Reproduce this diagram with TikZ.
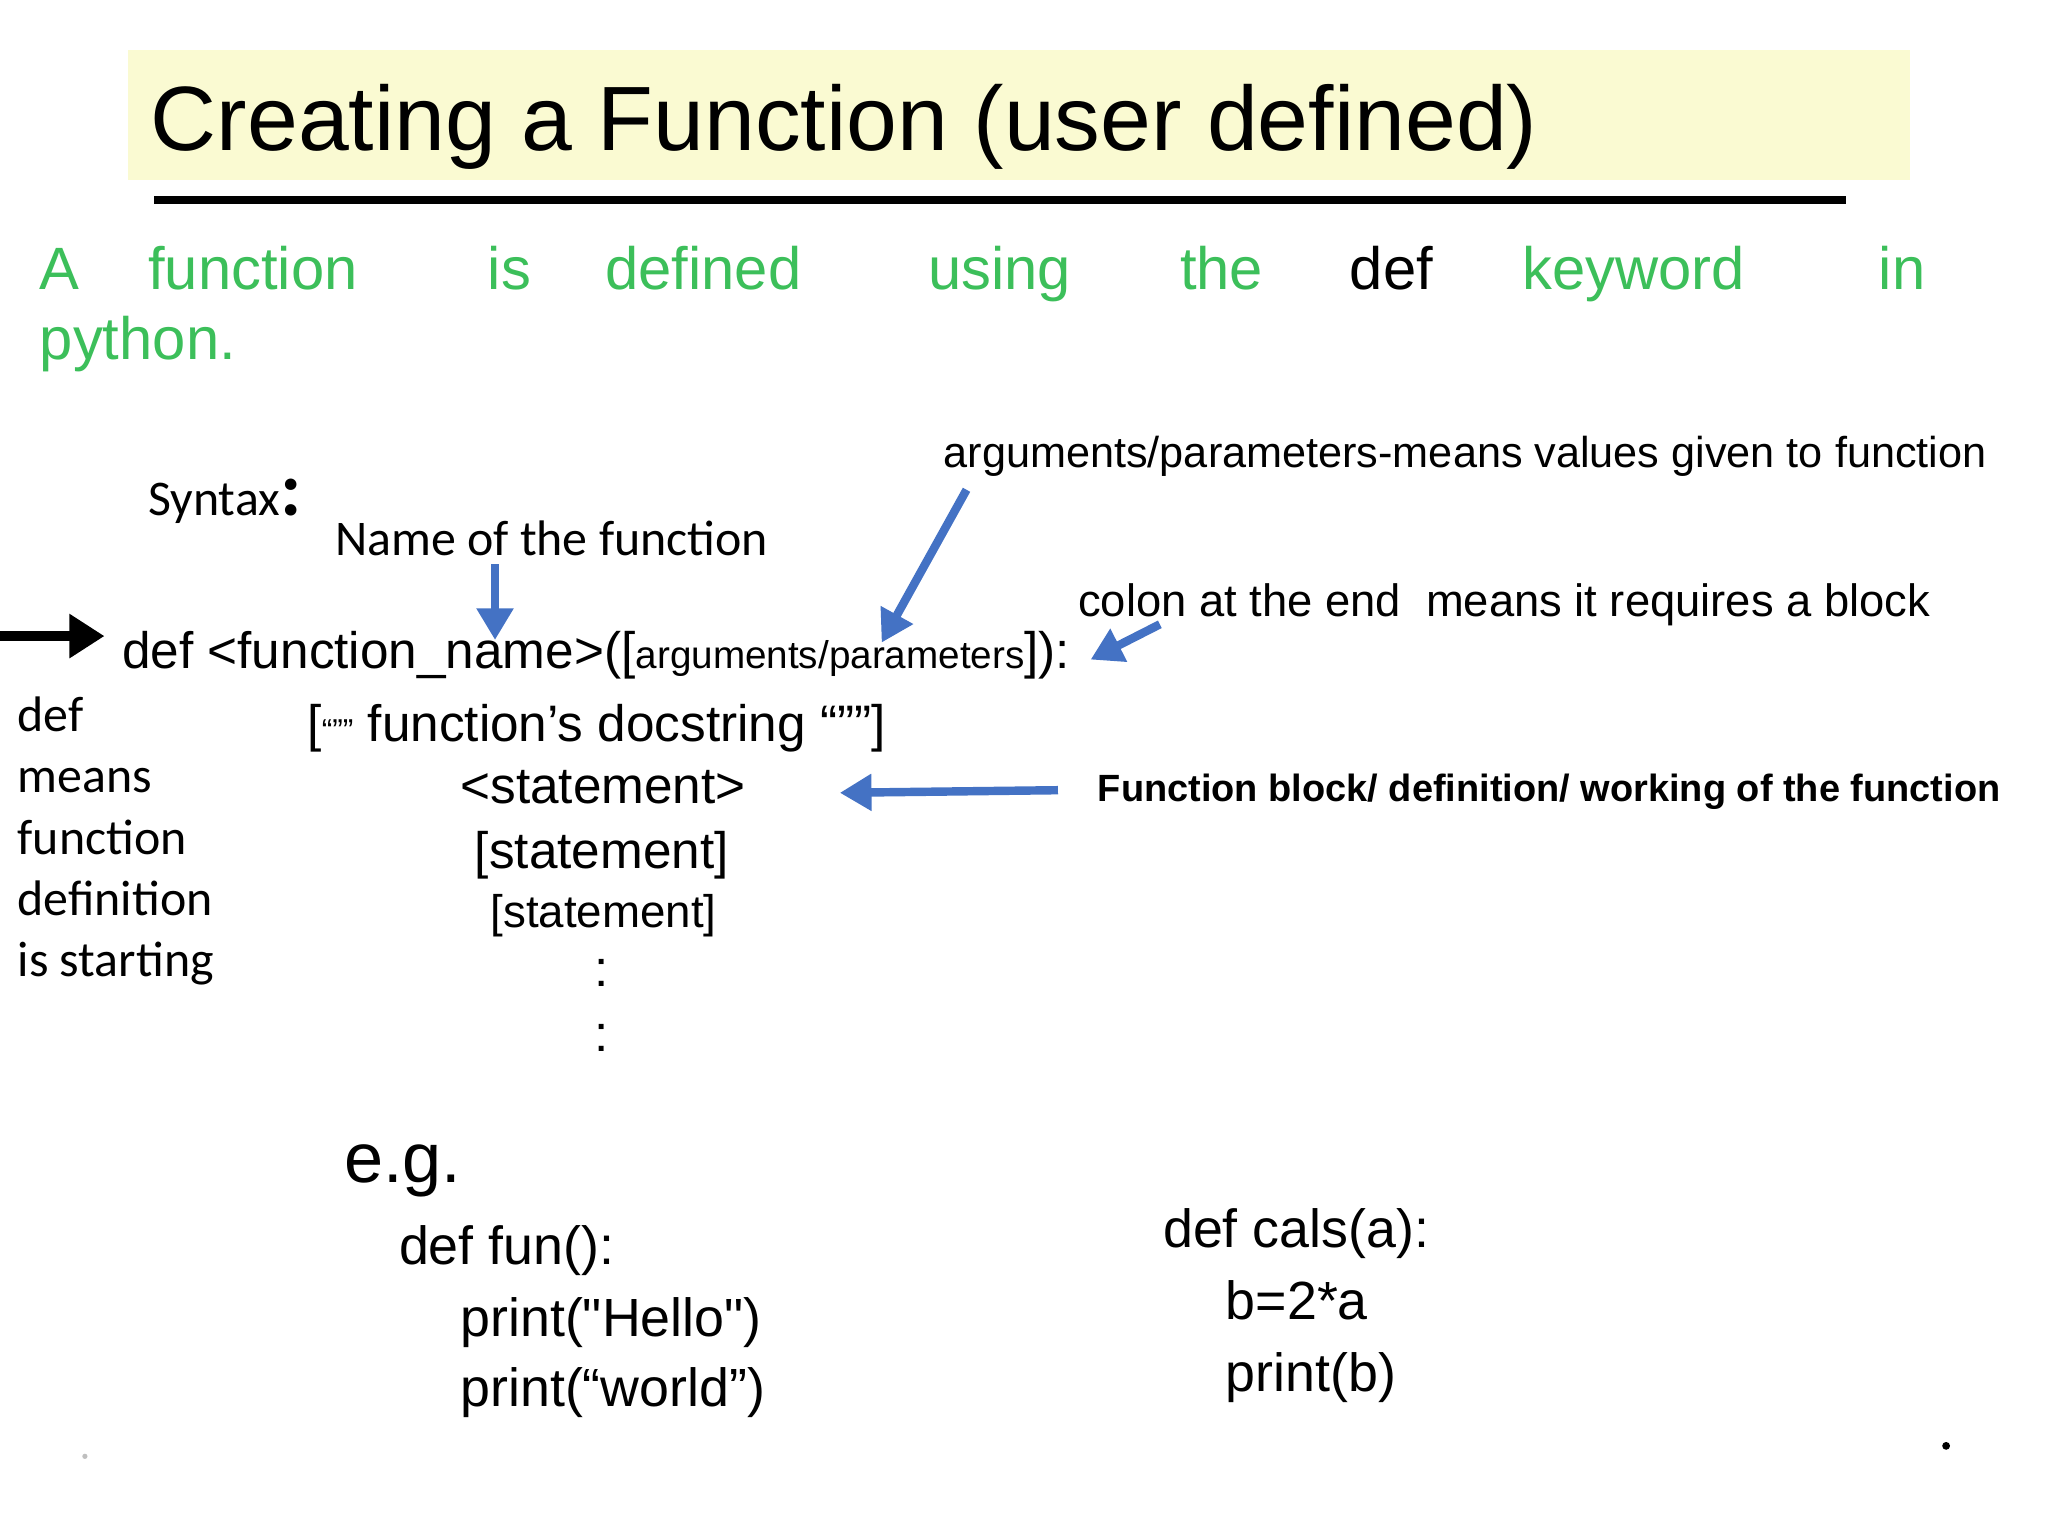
\documentclass[tikz,border=0pt]{standalone}
\usepackage{fontspec}
\setmainfont{Liberation Sans}
\newfontfamily\carlitofam{Carlito}
\usetikzlibrary{arrows.meta}
\definecolor{titlebg}{HTML}{FAFAD2}
\definecolor{grn}{HTML}{3CBF5A}
\definecolor{blu}{HTML}{4472C4}
\tikzset{
 t/.style={anchor=base west,inner sep=0pt},
 g/.style={t,text=grn,font=\fontsize{17}{20}\selectfont},
 ar/.style={t,font=\fontsize{14.6}{16}\selectfont},
 cb/.style={t,font=\carlitofam\fontsize{14.2}{16}\selectfont},
 bl/.style={draw=blu,line width=2.4pt,-{Triangle[length=9pt,width=10pt]}},
}
\begin{document}
\begin{tikzpicture}[x=0.01306cm,y=-0.01306cm]
\useasboundingbox[fill=white] (0,0) rectangle (1568,1176);
\fill[titlebg] (98,38) rectangle (1462,138);
\node[t,font=\fontsize{26}{30}\selectfont] (title) at (115,115) {Creating a Function (user defined)};
\draw[line width=2.3pt] (118,153) -- (1413,153);
\node[g] (w1) at (30,222) {A};
\node[g] (w2) at (113,222) {function};
\node[g] (w3) at (373,222) {is};
\node[g] (w4) at (463,222) {defined};
\node[g] (w5) at (710,222) {using};
\node[g] (w6) at (903,222) {the};
\node[g,text=black] (w7) at (1033,222) {def};
\node[g] (w8) at (1165,222) {keyword};
\node[g] (w9) at (1438,222) {in};
\node[g] (w10) at (30,275) {python.};
\node[cb] (syn) at (113,395) {Syntax{\fontsize{22}{22}\selectfont\textbf{:}}};
\node[cb] (name) at (256,425) {Name of the function};
\node[t,font=\fontsize{12.3}{14}\selectfont] (args) at (722,358) {arguments/parameters-means values given to function};
\node[t,font=\fontsize{12.9}{14}\selectfont] (colon) at (825,472) {colon at the end\ \ means it requires a block};
\node[ar] (defl) at (93,512) {def <function\_name>([{\fontsize{11}{12}\selectfont arguments/parameters}]):};
\coordinate (ka) at (0,487); \coordinate (kb) at (80,487);
\draw[line width=3pt,-{Triangle[length=10pt,width=12pt]}] (ka) -- (kb);
\coordinate (a1) at (379,432); \coordinate (a2) at (379,490);
\draw[bl] (a1) -- (a2);
\coordinate (b1) at (740,375); \coordinate (b2) at (675,492);
\draw[bl] (b1) -- (b2);
\coordinate (c1) at (888,478); \coordinate (c2) at (835,505);
\draw[bl] (c1) -- (c2);
\coordinate (d1) at (810,605); \coordinate (d2) at (643,607);
\draw[bl] (d1) -- (d2);
\node[ar] (doc) at (235,568) {[{\fontsize{9}{10}\selectfont“””} function’s docstring “””]};
\node[ar] (s1) at (352,615) {<statement>};
\node[ar] (s2) at (363,665) {[statement]};
\node[t,font=\fontsize{13}{14}\selectfont] (s3) at (375,710) {[statement]};
\node[ar] (dots1) at (455,755) {:};
\node[ar] (dots2) at (455,805) {:};
\node[cb] (m1) at (13,560) {def};
\node[cb] (m2) at (13,607) {means};
\node[cb] (m3) at (13,654) {function};
\node[cb] (m4) at (13,701) {definition};
\node[cb] (m5) at (13,748) {is starting};
\node[t,font=\bfseries\fontsize{10.8}{12}\selectfont] (fb) at (840,614) {Function block/ definition/ working of the function};
\node[t,font=\fontsize{20}{22}\selectfont] (eg) at (263,905) {e.g.};
\node[ar,font=\fontsize{15.3}{17}\selectfont] (e1) at (305,968) {def fun():};
\node[ar,font=\fontsize{15.3}{17}\selectfont] (e2) at (352,1023) {print(\textquotedbl Hello\textquotedbl)};
\node[ar,font=\fontsize{15.3}{17}\selectfont] (e3) at (352,1077) {print(“world”)};
\node[ar,font=\fontsize{15.3}{17}\selectfont] (f1) at (890,955) {def cals(a):};
\node[ar,font=\fontsize{15.3}{17}\selectfont] (f2) at (938,1010) {b=2*a};
\node[ar,font=\fontsize{15.3}{17}\selectfont] (f3) at (938,1065) {print(b)};
\fill (1490,1107) circle (3);
\fill[gray!50] (65,1115) circle (2);
\end{tikzpicture}
\end{document}
